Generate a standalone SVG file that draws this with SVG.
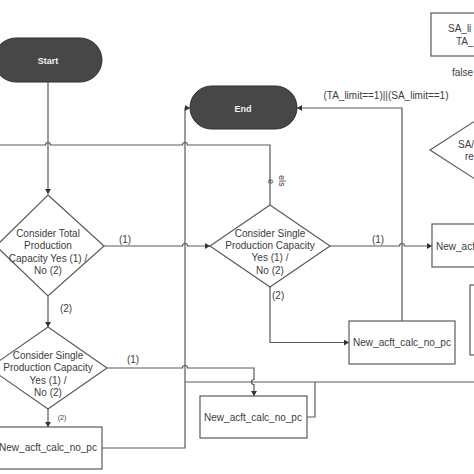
<svg xmlns="http://www.w3.org/2000/svg" width="474" height="474" viewBox="0 0 474 474">
<style>
.t{font-family:"Liberation Sans",Arial,sans-serif;font-size:10px;fill:#3c3c3c}
.tm{text-anchor:middle}
.pill{fill:#474747;stroke:#2e2e2e;stroke-width:1}
.pt{font-family:"Liberation Sans",Arial,sans-serif;font-size:9px;font-weight:bold;fill:#f2f2f2;text-anchor:middle}
.box{fill:#fff;stroke:#5a5a5a;stroke-width:1.2}
.c{fill:none;stroke:#5a5a5a;stroke-width:1.2}
</style>
<defs>
<marker id="ar" markerWidth="6" markerHeight="6" refX="5" refY="3" orient="auto" markerUnits="userSpaceOnUse">
<path d="M0,0 L5,3 L0,6 Z" fill="#333"/>
</marker>
</defs>
<rect width="474" height="474" fill="#fff"/>

<g id="connectors">
<path class="c" d="M48,82 V194" marker-end="url(#ar)"/>
<path class="c" d="M0,145 H45.5 a2.5,2.5 0 0 1 5,0 H182.5 a2.5,2.5 0 0 1 5,0 H270 V205"/>
<path class="c" d="M104,246 H182.5 a2.5,2.5 0 0 1 5,0 H210" marker-end="url(#ar)"/>
<path class="c" d="M330,246 H399.5 a2.5,2.5 0 0 1 5,0 H432" marker-end="url(#ar)"/>
<path class="c" d="M270,287 V342.5 H349" marker-end="url(#ar)"/>
<path class="c" d="M402,321 V108 H297" marker-end="url(#ar)"/>
<path class="c" d="M48,296 V327" marker-end="url(#ar)"/>
<path class="c" d="M48,409 V427" marker-end="url(#ar)"/>
<path class="c" d="M107,368 H182.5 a2.5,2.5 0 0 1 5,0 H254 V379.5 a2.5,2.5 0 0 0 0,5 V396" marker-end="url(#ar)"/>
<path class="c" d="M102,448 H185 V108 H190" marker-end="url(#ar)"/>
<path class="c" d="M185,382 H474"/>
<path class="c" d="M307,417 H315 V382"/>
</g>

<g id="start">
<rect class="pill" x="-6" y="38" width="108" height="44" rx="22"/>
<text class="pt" x="48" y="63.5">Start</text>
</g>
<g id="end">
<rect class="pill" x="190" y="86" width="107" height="43" rx="21.5"/>
<text class="pt" x="243" y="111.5">End</text>
</g>

<g id="d1">
<polygon class="box" points="48,195 104,246 48,296 -4,246"/>
<text class="t tm" x="48" y="237">Consider Total</text>
<text class="t tm" x="48" y="249">Production</text>
<text class="t tm" x="48" y="261.5">Capacity Yes (1) /</text>
<text class="t tm" x="48" y="273.5">No (2)</text>
</g>
<g id="d2">
<polygon class="box" points="270,205 330,246 270,287 210,246"/>
<text class="t tm" x="270" y="237">Consider Single</text>
<text class="t tm" x="270" y="249">Production Capacity</text>
<text class="t tm" x="270" y="261">Yes (1) /</text>
<text class="t tm" x="270" y="273.5">No (2)</text>
</g>
<g id="d3">
<polygon class="box" points="48,327 107,368 48,409 -11,368"/>
<text class="t tm" x="48" y="359">Consider Single</text>
<text class="t tm" x="48" y="371">Production Capacity</text>
<text class="t tm" x="48" y="383.5">Yes (1) /</text>
<text class="t tm" x="48" y="395.5">No (2)</text>
</g>
<g id="d4">
<polygon class="box" points="430,150 520,92 610,150 520,208"/>
<text class="t" x="458" y="147.5">SA/</text>
<text class="t" x="465" y="160">re</text>
</g>

<g id="box-top-right">
<rect class="box" x="431" y="13" width="80" height="43"/>
<text class="t" x="448" y="31.5">SA_li</text>
<text class="t" x="456" y="45">TA_</text>
</g>
<g id="box-right">
<rect class="box" x="432" y="224" width="107" height="43"/>
<text class="t" x="436" y="249.5">New_acf</text>
</g>
<g id="box-right2">
<rect class="box" x="470" y="285" width="60" height="70"/>
</g>
<g id="box-mid">
<rect class="box" x="349" y="321" width="106" height="43"/>
<text class="t tm" x="402" y="345.5">New_acft_calc_no_pc</text>
</g>
<g id="box-bottom-mid">
<rect class="box" x="200" y="396" width="107" height="42"/>
<text class="t tm" x="253" y="420.5">New_acft_calc_no_pc</text>
</g>
<g id="box-bottom-left">
<rect class="box" x="-6" y="427" width="108" height="42"/>
<text class="t tm" x="48" y="451">New_acft_calc_no_pc</text>
</g>

<g id="labels">
<text class="t tm" x="125" y="243">(1)</text>
<text class="t tm" x="378" y="243">(1)</text>
<text class="t" x="272" y="298.5">(2)</text>
<text class="t tm" x="66" y="311.5">(2)</text>
<text class="t tm" x="133" y="362.5">(1)</text>
<text class="t tm" style="font-size:7px" x="62" y="419.5">(2)</text>
<text class="t tm" x="386" y="98.5">(TA_limit==1)||(SA_limit==1)</text>
<text class="t" x="452" y="76">false</text>
<text class="t" style="font-size:9px" transform="translate(268,179) rotate(90)">e</text>
<text class="t" style="font-size:9px" transform="translate(279,175) rotate(90)">els</text>
</g>
</svg>
